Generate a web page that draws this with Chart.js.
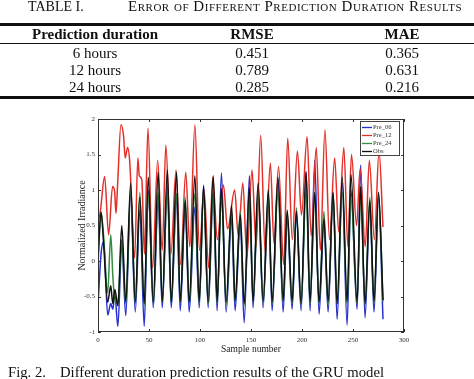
<!DOCTYPE html>
<html><head><meta charset="utf-8">
<script src="https://cdn.jsdelivr.net/npm/chart.js@4.4.1/dist/chart.umd.min.js"></script>
<style>
html,body{margin:0;padding:0;background:#fff;}
body{width:474px;height:379px;overflow:hidden;position:relative;font-family:"Liberation Serif","Times New Roman",serif;color:#111;}
#cv{position:absolute;left:0;top:0;}
.t{position:absolute;white-space:nowrap;line-height:17px;}
.c{width:200px;text-align:center;font-size:15px;}
.rule{position:absolute;left:0;width:474px;background:#111;}
</style></head>
<body>
<canvas id="cv" width="474" height="379"></canvas>
<div class="t" style="left:28px;top:-2px;font-size:14px;">TABLE I.</div>
<div class="t" style="left:128px;top:-2px;font-size:15px;letter-spacing:0.52px;font-variant:small-caps;">Error of Different Prediction Duration Results</div>
<div class="rule" style="top:23px;height:3px;"></div>
<div class="t c" style="left:-5px;top:26px;font-weight:bold;">Prediction duration</div>
<div class="t c" style="left:152px;top:26px;font-weight:bold;">RMSE</div>
<div class="t c" style="left:302px;top:26px;font-weight:bold;">MAE</div>
<div class="rule" style="top:43px;height:1px;"></div>
<div id="rows"></div>
<div class="rule" style="top:96px;height:3px;"></div>
<div class="t" style="left:8px;top:364px;font-size:14.7px;">Fig. 2.</div>
<div class="t" style="left:60px;top:364px;font-size:14.7px;">Different duration prediction results of the GRU model</div>
<script>
// ---- table data ----
const durations = ['6 hours', '12 hours', '24 hours'];
const rmse = ['0.451', '0.789', '0.285'];
const mae = ['0.365', '0.631', '0.216'];

// ---- chart data ----
const xTicks = [0, 50, 100, 150, 200, 250, 300];
const xTickLabels = ['0', '50', '100', '150', '200', '250', '300'];
const yTicks = [-1, -0.5, 0, 0.5, 1, 1.5, 2];
const yTickLabels = ['-1', '-0.5', '0', '0.5', '1', '1.5', '2'];

const samples = [0, 3, 5.5, 9.5, 12.5, 14.5, 16.5, 19.5, 23.3, 27.2, 32, 36.5, 41, 45.3, 49.3, 54.2, 59, 63, 68, 71.8, 77, 80.6, 85.5, 89.4, 95, 99.2, 103.5, 108, 113, 116.8, 121, 125.6, 131, 134.4, 139.5, 143.3, 148.5, 152, 157, 161.9, 167, 170.7, 176.5, 181.5, 185.5, 190.3, 194.5, 199.1, 204, 207.9, 212.5, 216.7, 221.5, 225.6, 230.5, 234.4, 239.5, 244.2, 248, 254, 257.5, 261.8, 266.5, 270.6, 275, 279.4];
const obs = [0.05, 0.69, 0.25, -0.58, -0.35, -0.6, -0.4, -0.63, 0.5, -0.57, 1.1, -0.58, 0.9, -0.6, 1.18, -0.58, 1.25, -0.57, 1.28, -0.58, 1.25, -0.57, 0.85, -0.58, 1.2, -0.57, 1.05, -0.58, 1.2, -0.57, 1.02, -0.58, 0.78, -0.56, 0.65, -0.6, 1.03, -0.57, 1.1, -0.57, 1.0, -0.58, 1.18, -0.56, 0.72, -0.57, 0.7, -0.6, 1.25, -0.57, 0.97, -0.58, 0.6, -0.57, 0.97, -0.6, 1.18, -0.57, 1.22, -0.58, 1.05, -0.6, 0.85, -0.57, 0.97, -0.55];
const pre06 = [-0.62, 0.1, 0.27, -0.76, -0.6, -0.68, -0.47, -0.92, 0.25, -0.77, 0.95, -0.72, 0.72, -0.92, 1.0, -0.66, 0.85, -0.66, 1.07, -0.66, 0.9, -0.7, 0.75, -0.72, 0.76, -0.66, 1.07, -0.66, 0.95, -0.7, 1.24, -0.72, 0.6, -0.7, 0.55, -0.87, 1.2, -0.66, 1.0, -0.66, 0.95, -0.7, 1.15, -0.72, 0.6, -0.68, 0.65, -0.7, 1.26, -0.7, 1.42, -0.75, 0.55, -0.72, 0.95, -0.82, 1.1, -0.9, 1.0, -0.68, 1.35, -0.8, 0.8, -0.72, 0.9, -0.82];
const pre24 = [-0.05, 0.68, 0.35, -0.45, 0.37, -0.2, -0.55, -0.6, 0.3, -0.6, 1.0, -0.6, 0.97, -0.62, 0.95, -0.6, 0.97, -0.58, 1.0, -0.6, 0.95, -0.58, 0.9, -0.6, 0.95, -0.6, 0.92, -0.6, 0.97, -0.6, 0.95, -0.62, 0.7, -0.58, 0.7, -0.62, 0.9, -0.58, 0.95, -0.6, 0.92, -0.6, 0.97, -0.58, 0.68, -0.6, 0.75, -0.62, 1.0, -0.6, 0.92, -0.6, 0.7, -0.62, 0.95, -0.6, 0.97, -0.6, 0.9, -0.6, 0.95, -0.62, 0.9, -0.6, 0.95, -0.57];
const pre12Samples = [0, 2.2, 6.5, 10.4, 14.3, 16.3, 17.6, 19.2, 22.5, 25, 26.7, 29, 31, 35.9, 39.1, 40.5, 43, 45.5, 49, 53.5, 58.5, 63, 66.5, 71.5, 76.5, 81, 86, 90, 95, 99.5, 104, 108.5, 112.5, 117, 123, 127, 134, 137.5, 142, 146, 151, 155, 159.5, 164, 169, 172.5, 177, 182, 186, 190.5, 195.5, 199.5, 205, 209, 214, 218, 222.5, 227, 232, 236, 241, 245, 248.5, 253.5, 257, 262, 266, 271, 275.5, 279.4];
const pre12 = [0.55, 0.69, 1.19, 0.37, 1.05, 0.98, 0.67, 1.07, 1.92, 1.77, 1.45, 1.6, 1.42, 0.04, 1.45, 1.2, 1.14, 0.1, 1.87, -0.1, 1.42, 0.15, 1.63, 0.1, 1.28, -0.05, 1.25, 0.2, 1.92, 0.15, 1.0, -0.1, 1.18, 0.3, 1.07, 0.45, 1.0, 0.35, 1.1, 0.05, 1.28, 0.2, 1.77, 0.1, 1.38, 0.25, 1.33, -0.05, 1.73, 0.3, 1.55, 0.65, 1.75, 0.35, 1.6, 0.15, 1.85, 0.3, 1.45, 0.41, 1.6, 0.2, 1.5, 0.5, 1.3, 0.2, 1.42, 0.3, 1.55, 0.48];

// table rows
const rowsDiv = document.getElementById('rows');
const rowTops = [45, 62, 79];
durations.forEach((d, i) => {
  [[d, -5], [rmse[i], 152], [mae[i], 302]].forEach(([txt, left]) => {
    const el = document.createElement('div');
    el.className = 't c';
    el.style.left = left + 'px';
    el.style.top = rowTops[i] + 'px';
    el.textContent = txt;
    rowsDiv.appendChild(el);
  });
});

const BLUE = 'rgb(38,48,205)', RED = 'rgb(228,48,40)', GREEN = 'rgb(52,140,62)', BLACK = '#111';
const pts = (xs, ys) => xs.map((x, i) => ({x: x, y: ys[i]}));
const serif = 'Liberation Serif';

const framePlugin = {
  id: 'frame',
  afterDraw(chart) {
    const {ctx, chartArea: {left, top, right, bottom}, scales: {x, y}} = chart;
    ctx.save();
    ctx.strokeStyle = '#333';
    ctx.lineWidth = 1;
    ctx.strokeRect(Math.round(left) + 0.5, Math.round(top) + 0.5, Math.round(right - left) - 1, Math.round(bottom - top) - 1);
    ctx.beginPath();
    xTicks.forEach(v => {
      const px = Math.round(x.getPixelForValue(v)) + 0.5;
      ctx.moveTo(px, bottom); ctx.lineTo(px, bottom - 3);
      ctx.moveTo(px, top); ctx.lineTo(px, top + 3);
    });
    yTicks.forEach(v => {
      const py = Math.round(y.getPixelForValue(v)) + 0.5;
      ctx.moveTo(left, py); ctx.lineTo(left + 3, py);
      ctx.moveTo(right, py); ctx.lineTo(right - 3, py);
    });
    ctx.stroke();
    // legend
    const bx = right - 44, by = top + 2, bw = 39, bh = 34;
    ctx.fillStyle = '#fff';
    ctx.fillRect(bx, by, bw, bh);
    ctx.strokeStyle = '#444';
    ctx.strokeRect(bx + 0.5, by + 0.5, bw, bh);
    ctx.font = '6.5px "Liberation Serif"';
    ctx.textBaseline = 'middle';
    chart.data.datasets.forEach((ds, i) => {
      const ly = by + 6 + i * 8;
      ctx.strokeStyle = ds.borderColor;
      ctx.lineWidth = 1.3;
      ctx.beginPath();
      ctx.moveTo(bx + 2, ly + 0.5); ctx.lineTo(bx + 12, ly + 0.5);
      ctx.stroke();
      ctx.fillStyle = '#333';
      ctx.fillText(ds.label, bx + 13, ly + 0.5);
    });
    ctx.restore();
  }
};

new Chart(document.getElementById('cv'), {
  type: 'line',
  data: {
    datasets: [
      {label: 'Pre_06', data: pts(samples, pre06), borderColor: BLUE, order: 3},
      {label: 'Pre_12', data: pts(pre12Samples, pre12), borderColor: RED, order: 2},
      {label: 'Pre_24', data: pts(samples, pre24), borderColor: GREEN, order: 1},
      {label: 'Obs', data: pts(samples, obs), borderColor: BLACK, order: 0}
    ]
  },
  options: {
    responsive: false,
    animation: false,
    devicePixelRatio: 1,
    elements: {
      point: {radius: 0},
      line: {borderWidth: 1.5, cubicInterpolationMode: 'monotone', fill: false}
    },
    layout: {padding: {left: 76, right: 70, top: 119, bottom: 0}},
    plugins: {legend: {display: false}, tooltip: {enabled: false}},
    scales: {
      x: {
        type: 'linear', min: 0, max: 300,
        afterFit(s) { s.height = 47; },
        afterBuildTicks(s) { s.ticks = xTicks.map(v => ({value: v})); },
        grid: {display: false, drawTicks: false},
        border: {display: false},
        ticks: {padding: 4, maxRotation: 0, color: '#333', font: {family: serif, size: 7},
          callback: (v) => xTickLabels[xTicks.indexOf(v)]},
        title: {display: true, text: 'Sample number', color: '#222', font: {family: serif, size: 9.5}, padding: {top: 0, bottom: 24}}
      },
      y: {
        type: 'linear', min: -1, max: 2,
        afterFit(s) { s.width = 22; },
        afterBuildTicks(s) { s.ticks = yTicks.map(v => ({value: v})); },
        grid: {display: false, drawTicks: false},
        border: {display: false},
        ticks: {padding: 3, color: '#333', font: {family: serif, size: 7},
          callback: (v) => yTickLabels[yTicks.indexOf(v)]},
        title: {display: true, text: 'Normalized Irradiance', color: '#222', font: {family: serif, size: 10}, padding: {top: 0, bottom: 0}}
      }
    }
  },
  plugins: [framePlugin]
});
</script>
</body></html>
